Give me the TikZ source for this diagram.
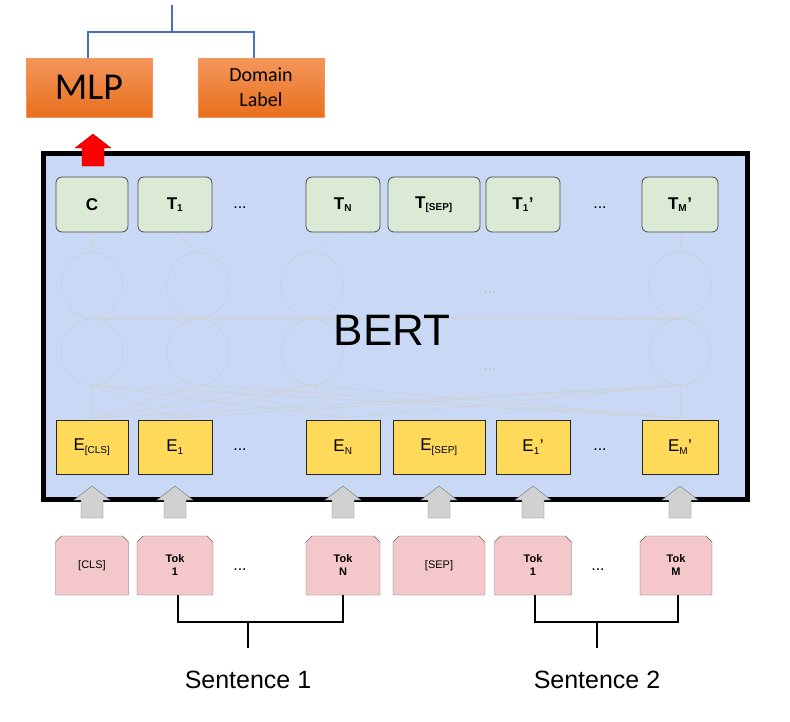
\documentclass[tikz,border=0pt]{standalone}
\usepackage{fontspec}
\usepackage{amsmath}
\setmainfont{Liberation Sans}
\newfontfamily\carlitofont{Carlito}
\usetikzlibrary{shapes.misc,shapes.geometric}
\definecolor{bertblue}{RGB}{200,216,245}
\definecolor{tgreen}{RGB}{218,234,212}
\definecolor{eyellow}{RGB}{255,217,90}
\definecolor{tpink}{RGB}{244,200,202}
\definecolor{oranA}{RGB}{244,150,90}
\definecolor{oranB}{RGB}{232,112,30}
\definecolor{lineblue}{RGB}{70,114,196}
\tikzset{
 orbox/.style={draw=oranA,top color=oranA,bottom color=oranB,minimum width=126pt,minimum height=59pt,inner sep=0},
 tbox/.style={draw=black!70,thick,fill=tgreen,rounded corners=6pt,minimum height=55pt,font=\bfseries\fontsize{17}{17}\selectfont,inner sep=0},
 ebox/.style={draw=black!85,thick,fill=eyellow,minimum height=54pt,font=\fontsize{17}{17}\selectfont,inner sep=0},
 tok/.style={draw=black!60,fill=tpink,chamfered rectangle,chamfered rectangle corners={north west,north east},chamfered rectangle xsep=3pt,chamfered rectangle ysep=3pt,minimum height=59pt,font=\bfseries\fontsize{11}{13}\selectfont,align=center,inner sep=0},
 circ/.style={draw=black!20,ellipse,minimum width=62pt,minimum height=66pt},
 faint/.style={draw=black!18,line width=0.6pt},
 dots/.style={font=\fontsize{16}{16}\selectfont},
 pics/uparrow/.style={code={\path[#1] (-11,32)--(-11,14)--(-18,14)--(0,0)--(18,14)--(11,14)--(11,32)--cycle;}},
}
\begin{document}
\begin{tikzpicture}[x=1pt,y=-1pt]
\useasboundingbox (0,0) rectangle (790,721);
% top
\node[orbox,font=\carlitofont\fontsize{38}{38}\selectfont] (mlp) at (89,87.5) {MLP};
\node[orbox,font=\carlitofont\fontsize{20}{25}\selectfont,align=center] (dom) at (261,87.5) {Domain\\Label};
\coordinate (top) at (172,5);
\draw[lineblue,line width=2pt] (top) -- (172,32) (mlp.north -| 88,0) |- (172,32) -| (dom.north -| 254,0);
% BERT box
\node[draw=black,line width=5pt,fill=bertblue,minimum width=704pt,minimum height=346pt,inner sep=0] (bert) at (395,326) {};
\pic at (93,134) {uparrow={fill=red,draw=red!70!black}};
% faint network
\foreach \i/\x in {1/92,2/198,3/312,4/680}{
 \node[circ] (u\i) at (\x,285) {};
 \node[circ] (l\i) at (\x,352) {};
}
\foreach \i/\x in {1/92,2/175,3/343,4/680}{\coordinate (eb\i) at (\x,418);}
\foreach \a in {1,2,3,4}{\foreach \b in {1,2,3,4}{
 \draw[faint] (eb\a) -- (l\b.south);
 \draw[faint] (l\a.north) -- (u\b.south);}}
\foreach \i/\x in {1/92,2/175,3/343,4/680}{\draw[faint] (u\i.north) -- (\x,232);}
\node[text=black!25,dots] (d1) at (490,293) {...};
\node[text=black!25,dots] (d2) at (490,370) {...};
\node[font=\fontsize{44}{44}\selectfont] (bt) at (392,330) {BERT};
% T row
\node[tbox,minimum width=72pt] (c) at (92,204.5) {C};
\node[tbox,minimum width=74pt] (t1) at (175,204.5) {T$_{\text{\fontsize{10}{10}\selectfont 1}}$};
\node[dots] (td1) at (240,208) {...};
\node[tbox,minimum width=74pt] (tn) at (343,204.5) {T$_{\text{\fontsize{10}{10}\selectfont N}}$};
\node[tbox,minimum width=92pt] (tsep) at (434,204.5) {T$_{\text{\fontsize{10}{10}\selectfont [SEP]}}$};
\node[tbox,minimum width=74pt] (t1p) at (523,204.5) {T$_{\text{\fontsize{10}{10}\selectfont 1}}$’};
\node[dots] (td2) at (600,208) {...};
\node[tbox,minimum width=76pt] (tmp) at (680,204.5) {T$_{\text{\fontsize{10}{10}\selectfont M}}$’};
% E row
\node[ebox,minimum width=72pt] (ecls) at (92,447) {E$_{\text{\fontsize{10}{10}\selectfont [CLS]}}$};
\node[ebox,minimum width=74pt] (e1) at (175,447) {E$_{\text{\fontsize{10}{10}\selectfont 1}}$};
\node[dots] (ed1) at (240,450) {...};
\node[ebox,minimum width=74pt] (en) at (343,447) {E$_{\text{\fontsize{10}{10}\selectfont N}}$};
\node[ebox,minimum width=92pt] (esep) at (439,447) {E$_{\text{\fontsize{10}{10}\selectfont [SEP]}}$};
\node[ebox,minimum width=74pt] (e1p) at (533,447) {E$_{\text{\fontsize{10}{10}\selectfont 1}}$’};
\node[dots] (ed2) at (600,450) {...};
\node[ebox,minimum width=76pt] (emp) at (680,447) {E$_{\text{\fontsize{10}{10}\selectfont M}}$’};
% gray arrows
\foreach \x in {92,175,343,439,533,680}{\pic at (\x,486) {uparrow={fill=black!18,draw=black!55}};}
% tokens
\node[tok,minimum width=73pt] (kcls) at (92,565.5) {\mdseries[CLS]};
\node[tok,minimum width=76pt] (k1) at (175,565.5) {Tok\\1};
\node[dots] (kd1) at (240,570) {...};
\node[tok,minimum width=74pt] (kn) at (343,565.5) {Tok\\N};
\node[tok,minimum width=92pt] (ksep) at (439,565.5) {\mdseries[SEP]};
\node[tok,minimum width=77pt] (k1p) at (533,565.5) {Tok\\1};
\node[dots] (kd2) at (598,570) {...};
\node[tok,minimum width=72pt] (kmp) at (676,565.5) {Tok\\M};
% sentences
\node[font=\fontsize{25}{25}\selectfont] (s1) at (248,680) {Sentence 1};
\node[font=\fontsize{25}{25}\selectfont] (s2) at (597,680) {Sentence 2};
\draw[line width=1.5pt] (k1.south -| 178,0) |- (248,622) -| (kn.south -| 343,0) (248,622) -- (248,648);
\draw[line width=1.5pt] (k1p.south -| 535,0) |- (597,622) -| (kmp.south -| 678,0) (597,622) -- (597,648);
\end{tikzpicture}
\end{document}
